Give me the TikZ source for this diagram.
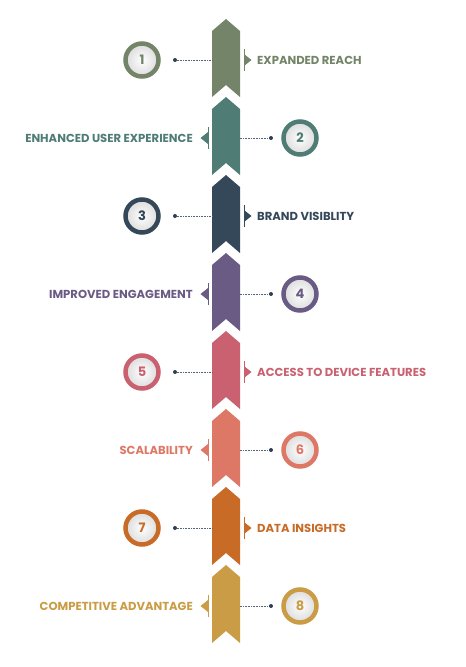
\documentclass[tikz,border=0pt]{standalone}
\usepackage{fontspec}
\setmainfont{Poppins}
\usepackage{xcolor}
\usepackage{tikz}
\usetikzlibrary{arrows.meta}
\definecolor{stepolive}{HTML}{738468}
\definecolor{stepteal}{HTML}{4F7C75}
\definecolor{stepslate}{HTML}{34485A}
\definecolor{steppurple}{HTML}{6A5B84}
\definecolor{steprose}{HTML}{C96171}
\definecolor{stepsalmon}{HTML}{DE7866}
\definecolor{steporange}{HTML}{C86B27}
\definecolor{stepgold}{HTML}{C99C45}
\definecolor{dotnavy}{HTML}{2F3F52}

\begin{document}
\begin{tikzpicture}[x=1pt, y=-1pt, >=Latex,
    badge/.style={circle, line width=4.5pt, minimum size=33pt, inner sep=0pt,
      inner color=white, outer color=black!14, font=\fontsize{13}{14}\selectfont\bfseries},
    lbl/.style={inner sep=0pt, font=\fontsize{11.6}{13}\selectfont\bfseries}]
  \useasboundingbox (0,0) rectangle (466,667);
  \foreach \i/\col/\s/\a/\txt [evaluate=\i as \y using {60+78*(\i-1)}] in
    {1/stepolive/-1/west/EXPANDED REACH,
     2/stepteal/1/east/ENHANCED USER EXPERIENCE,
     3/stepslate/-1/west/BRAND VISIBLITY,
     4/steppurple/1/east/IMPROVED ENGAGEMENT,
     5/steprose/-1/west/ACCESS TO DEVICE FEATURES,
     6/stepsalmon/1/east/SCALABILITY,
     7/steporange/-1/west/DATA INSIGHTS,
     8/stepgold/1/east/COMPETITIVE ADVANTAGE} {
    \fill[\col] (212,\y-29) -- (226,\y-41) -- (240,\y-29) -- (240,\y+37)
      -- (226,\y+25) -- (212,\y+37) -- cycle;
    \node[badge, draw=\col, text=\col] (n\i) at ({221+79*\s},\y) {\i};
    \coordinate (d\i) at ({223+48*\s},\y);
    \coordinate (e\i) at ({226+14*\s},\y);
    \draw[dotnavy!80, dash pattern=on 0.8pt off 0.8pt, line width=0.6pt] (d\i) -- (e\i);
    \fill[dotnavy] (d\i) circle (2pt);
    \draw[\col, line width=0.8pt] ({226-18*\s},\y-11) -- ({226-18*\s},\y+11);
    \fill[\col] ({226-18*\s},\y-6) -- ({226-25.5*\s},\y) -- ({226-18*\s},\y+6) -- cycle;
    \node[lbl, text=\col, anchor=\a] (t\i) at ({225-32*\s},\y) {\txt};
  }
\end{tikzpicture}
\end{document}
